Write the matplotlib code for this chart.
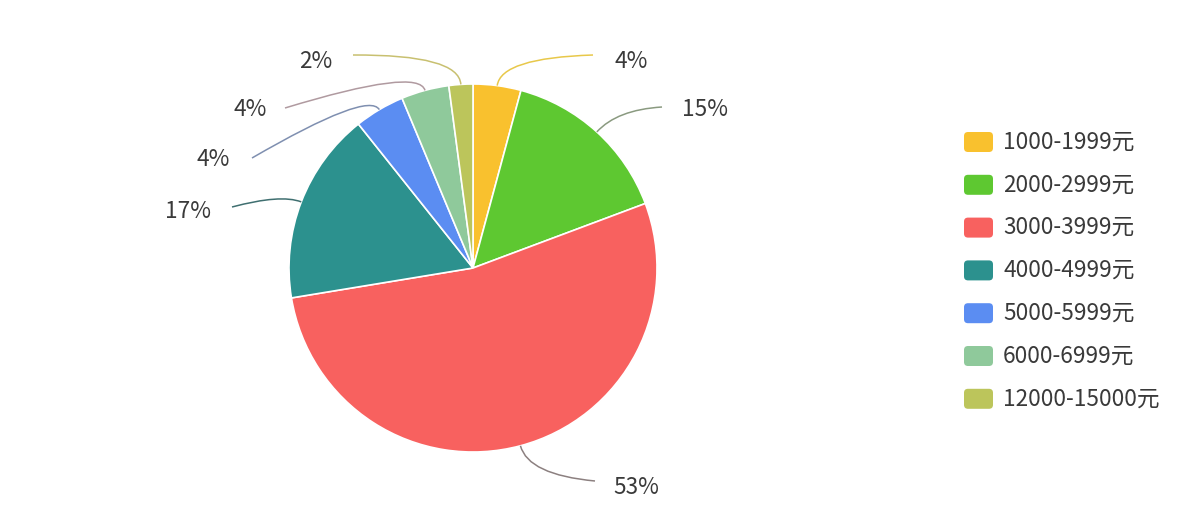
import numpy as np
import matplotlib
matplotlib.use("Agg")
import matplotlib.pyplot as plt
from matplotlib.path import Path
from matplotlib.patches import PathPatch, FancyBboxPatch

plt.rcParams['font.family'] = ['Noto Sans CJK SC', 'DejaVu Sans']

# data
categories = ['1000-1999元', '2000-2999元', '3000-3999元', '4000-4999元',
              '5000-5999元', '6000-6999元', '12000-15000元']
shares = [4.2, 15.1, 53.1, 16.9, 4.4, 4.2, 2.1]
colors = ['#F9C12E', '#5EC831', '#F8615F', '#2C918E', '#5B8DF2', '#8FC99B', '#BCC55B']
line_colors = ['#E8C84A', '#8A9A80', '#8C8080', '#3F6F70', '#7F8FB0', '#B09AA0', '#C8C070']

W, H = 1200, 516
CX, CY, R = 473, 268, 184

# label layout in image pixels (x, y from top)
text_pos = [(631, 62), (705, 110), (636, 487), (188, 212), (213, 160), (250, 110), (316, 62)]
line_end = [(593, 55), (662, 107), (595, 481), (232, 207), (252, 158), (285, 108), (353, 55)]
elbow_len = [28, 30, 30, 22, 22, 24, 30]

fig = plt.figure(figsize=(W / 100, H / 100), dpi=100)
ax = fig.add_axes([0, 0, 1, 1])

wedges, _ = ax.pie(shares, colors=colors, startangle=90, counterclock=False,
                   radius=R, center=(CX, H - CY),
                   wedgeprops=dict(edgecolor='white', linewidth=1.2))

txt_color = '#3a3a3a'
fs = 16.3
for i, w in enumerate(wedges):
    mid = np.deg2rad((w.theta1 + w.theta2) / 2)
    d = np.array([np.cos(mid), np.sin(mid)])
    c = np.array([CX, H - CY])
    p0 = c + R * d
    p1 = c + (R + elbow_len[i]) * d
    p2 = np.array([line_end[i][0], H - line_end[i][1]])
    path = Path([p0, p1, p2], [Path.MOVETO, Path.CURVE3, Path.CURVE3])
    ax.add_patch(PathPatch(path, fill=False, edgecolor=line_colors[i], lw=1.1))
    tx, ty = text_pos[i]
    ax.text(tx, H - ty, '%.0f%%' % shares[i], ha='center', va='center',
            fontsize=fs, color=txt_color)

# legend
for i, (lab, col) in enumerate(zip(categories, colors)):
    yc = 142 + i * 42.8
    box = FancyBboxPatch((964, H - yc - 10), 29, 20,
                         boxstyle='round,pad=0,rounding_size=4',
                         facecolor=col, edgecolor='none')
    ax.add_patch(box)
    ax.text(1003, H - yc, lab, ha='left', va='center', fontsize=fs, color=txt_color)

ax.set_xlim(0, W)
ax.set_ylim(0, H)
ax.set_aspect('equal')
ax.axis('off')

fig.savefig('out.png', dpi=100, facecolor='white')
